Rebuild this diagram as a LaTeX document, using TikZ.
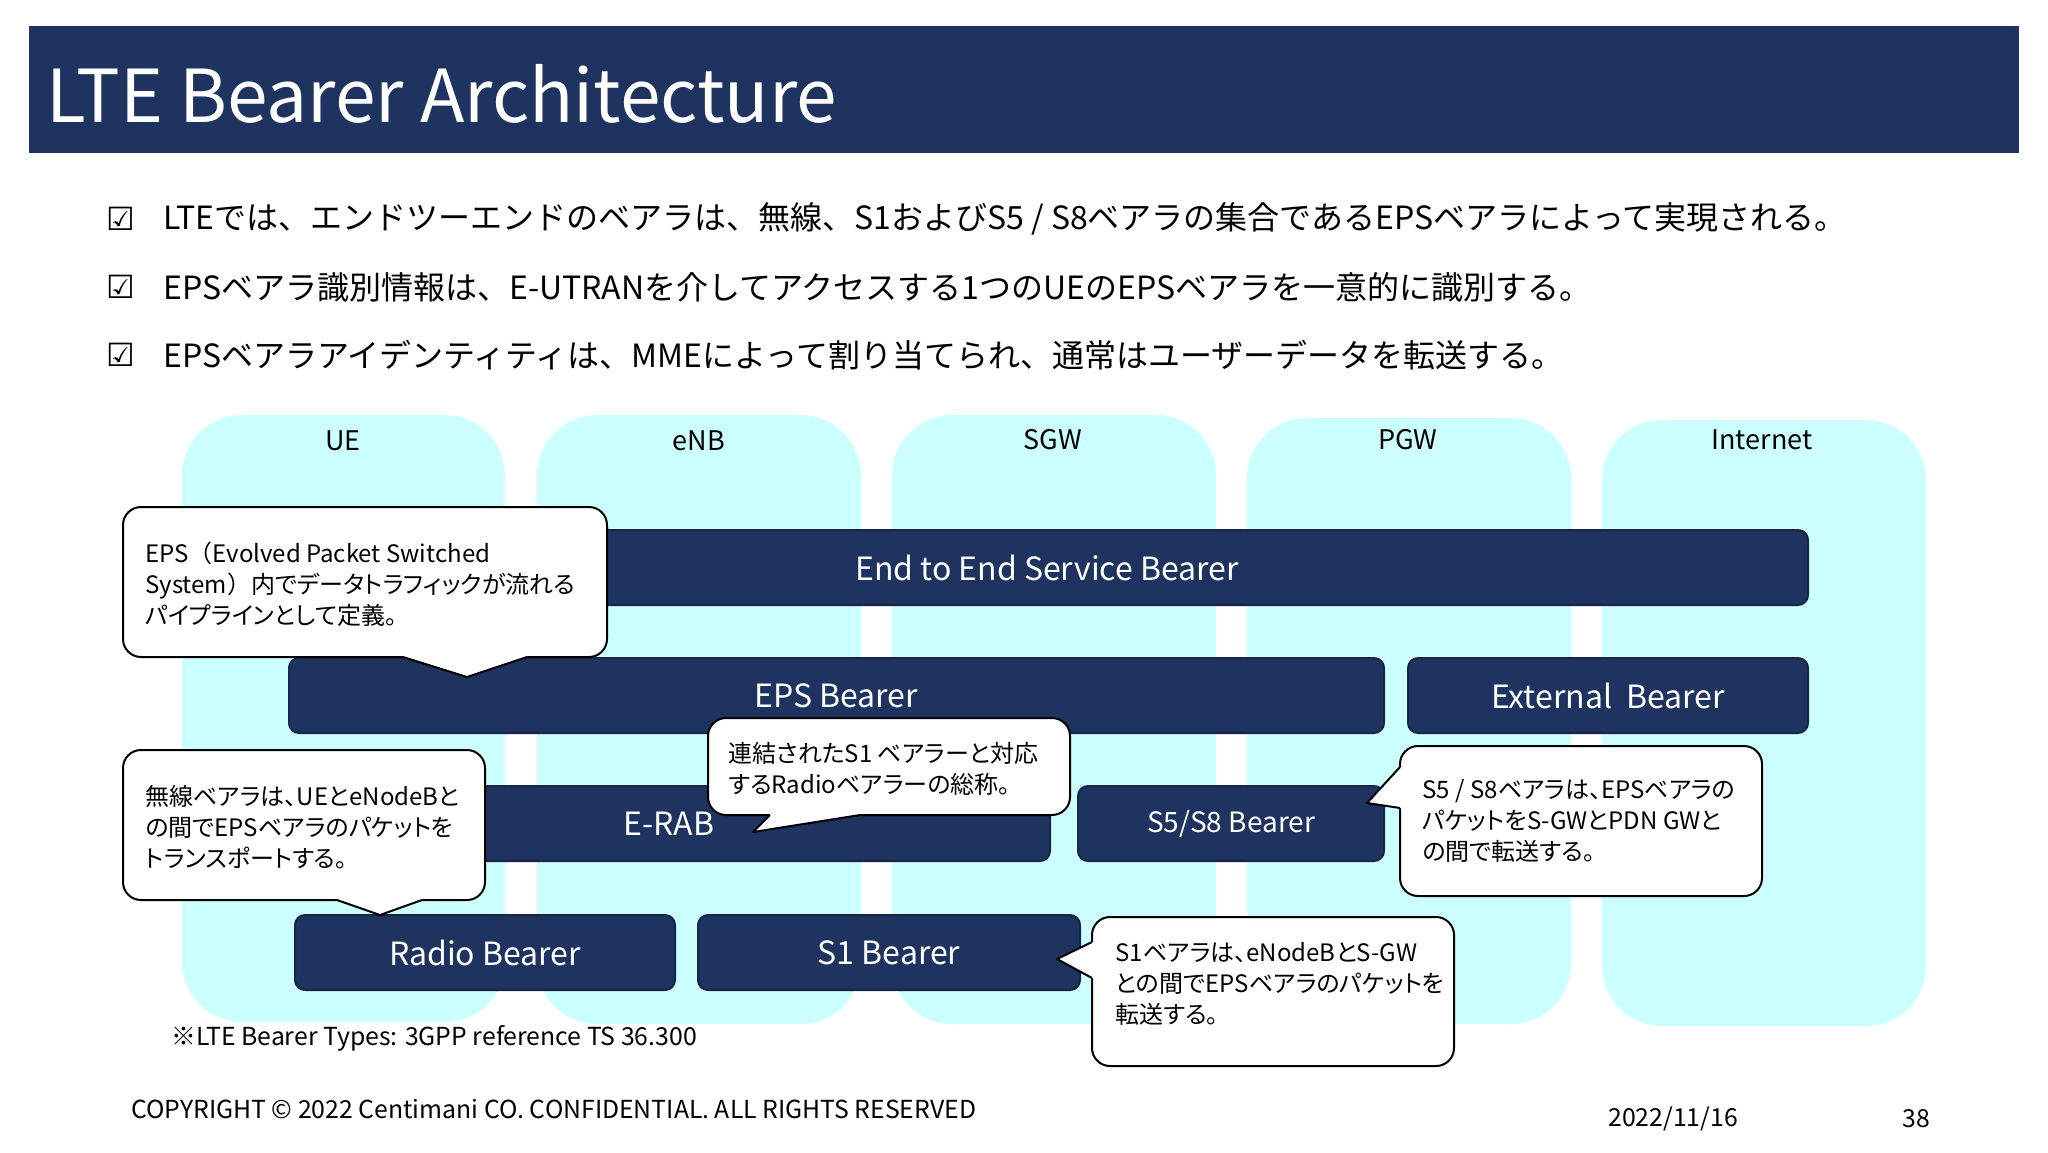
\documentclass[tikz,border=0pt]{standalone}
\usepackage{fontspec}
\setmainfont{Noto Sans CJK JP}
\newfontfamily\checkfont{DejaVu Sans}
\newfontfamily\notefont[RawFeature=+palt]{Noto Sans CJK JP}
\usetikzlibrary{positioning}
\definecolor{navy}{RGB}{31,51,96}
\definecolor{lanebg}{RGB}{204,255,255}
\tikzset{
  lane/.style={fill=lanebg, rounded corners=30pt},
  lanelabel/.style={font=\fontsize{13.5}{15}\selectfont},
  bar/.style={fill=navy, draw=navy!75!black, line width=1pt, rounded corners=5pt},
  bartext/.style={text=white, font=\fontsize{16}{18}\selectfont},
  bubble/.style={fill=white, draw=black, line width=1pt, rounded corners=9pt},
  tipfill/.style={fill=white},
  tipline/.style={draw=black, line width=1pt, line join=round},
  bubbletext/.style={align=left, anchor=north west, inner sep=0pt,
    font=\notefont\fontsize{12}{15.5}\selectfont},
  bullettext/.style={anchor=west, inner sep=0pt, font=\fontsize{16}{18}\selectfont},
  footer/.style={anchor=west, inner sep=0pt, font=\fontsize{12.4}{14}\selectfont}
}

\begin{document}
\begin{tikzpicture}[x=0.5pt, y=-0.5pt]
  \useasboundingbox[fill=white] (0,0) rectangle (2048,1152);

  % title
  \fill[navy] (29,26) rectangle (2019,153);
  \node[anchor=west, inner sep=0pt, text=white, font=\fontsize{36.5}{40}\selectfont]
    (title) at (46,94) {LTE Bearer Architecture};

  % bullets
  \node[bullettext, font=\checkfont\fontsize{16}{18}\selectfont] (chk1) at (106,219) {☑};
  \node[bullettext] (line1) at (163,219) {LTEでは、エンドツーエンドのベアラは、無線、S1およびS5 / S8ベアラの集合であるEPSベアラによって実現される。};
  \node[bullettext, font=\checkfont\fontsize{16}{18}\selectfont] (chk2) at (106,287) {☑};
  \node[bullettext] (line2) at (163,287) {EPSベアラ識別情報は、E-UTRANを介してアクセスする1つのUEのEPSベアラを一意的に識別する。};
  \node[bullettext, font=\checkfont\fontsize{16}{18}\selectfont] (chk3) at (106,355) {☑};
  \node[bullettext] (line3) at (163,355) {EPSベアラアイデンティティは、MMEによって割り当てられ、通常はユーザーデータを転送する。};

  % lanes
  \fill[lane] (182,415) rectangle (505,1022);
  \fill[lane] (537,415) rectangle (861,1024);
  \fill[lane] (892,415) rectangle (1216,1024);
  \fill[lane] (1247,418) rectangle (1571,1024);
  \fill[lane] (1602,420) rectangle (1926,1026);
  \node[lanelabel] (ue) at (343,441) {UE};
  \node[lanelabel] (enb) at (699,441) {eNB};
  \node[lanelabel] (sgw) at (1053,440) {SGW};
  \node[lanelabel] (pgw) at (1408,440) {PGW};
  \node[lanelabel] (inet) at (1762,440) {Internet};

  % bearers
  \draw[bar] (287,530) rectangle (1808,605);
  \node[bartext] (e2e) at (1047,568) {End to End Service Bearer};
  \draw[bar] (289,658) rectangle (1384,733);
  \node[bartext] (eps) at (836,696) {EPS Bearer};
  \draw[bar] (1408,658) rectangle (1808,733);
  \node[bartext] (ext) at (1608,696) {External\ \ Bearer};
  \draw[bar] (289,786) rectangle (1050,861);
  \node[bartext] (erab) at (669,824) {E-RAB};
  \draw[bar] (1078,786) rectangle (1384,861);
  \node[bartext, font=\fontsize{14}{16}\selectfont] (s5s8) at (1231,824) {S5/S8 Bearer};
  \draw[bar] (295,915) rectangle (675,990);
  \node[bartext] (radio) at (485,953) {Radio Bearer};
  \draw[bar] (698,915) rectangle (1080,990);
  \node[bartext] (s1) at (889,953) {S1 Bearer};

  % callouts
  \draw[bubble] (123,507) rectangle (607,657);
  \fill[tipfill] (403,654) -- (403,657) -- (467,677) -- (527,657) -- (527,654) -- cycle;
  \draw[tipline] (403,657) -- (467,677) -- (527,657);
  \node[bubbletext] (epsnote) at (145,542)
    {EPS{\rmfamily （}Evolved Packet Switched\\System{\rmfamily ）}内でデータトラフィックが流れる\\パイプラインとして定義。};

  \draw[bubble] (123,750) rectangle (485,900);
  \fill[tipfill] (337,897) -- (337,900) -- (380,915) -- (422,900) -- (422,897) -- cycle;
  \draw[tipline] (337,900) -- (380,915) -- (422,900);
  \node[bubbletext] (radionote) at (145,785)
    {無線ベアラは、UEとeNodeBと\\の間でEPSベアラのパケットを\\トランスポートする。};

  \draw[bubble] (708,718) rectangle (1070,815);
  \fill[tipfill] (770,812) -- (770,815) -- (753,832) -- (860,815) -- (860,812) -- cycle;
  \draw[tipline] (770,815) -- (753,832) -- (860,815);
  \node[bubbletext] (erabnote) at (728,742)
    {連結されたS1 ベアラーと対応\\するRadioベアラーの総称。};

  \draw[bubble] (1400,746) rectangle (1762,896);
  \fill[tipfill] (1403,767) -- (1400,767) -- (1367,803) -- (1400,808) -- (1403,808) -- cycle;
  \draw[tipline] (1400,767) -- (1367,803) -- (1400,808);
  \node[bubbletext] (s5s8note) at (1422,779)
    {S5 / S8ベアラは、EPSベアラの\\パケットをS-GWとPDN GWと\\の間で転送する。};

  \draw[bubble] (1092,917) rectangle (1454,1066);
  \fill[tipfill] (1095,942) -- (1092,942) -- (1057,959) -- (1092,978) -- (1095,978) -- cycle;
  \draw[tipline] (1092,942) -- (1057,959) -- (1092,978);
  \node[bubbletext] (s1note) at (1115,942)
    {S1ベアラは、eNodeBとS-GW\\との間でEPSベアラのパケットを\\転送する。};

  % footer
  \node[footer] (ref) at (171,1038) {※LTE Bearer Types: 3GPP reference TS 36.300};
  \node[footer] (copy) at (131,1109) {COPYRIGHT © 2022 Centimani CO. CONFIDENTIAL. ALL RIGHTS RESERVED};
  \node[footer] (date) at (1608,1119) {2022/11/16};
  \node[footer] (page) at (1902,1119) {38};
\end{tikzpicture}
\end{document}
